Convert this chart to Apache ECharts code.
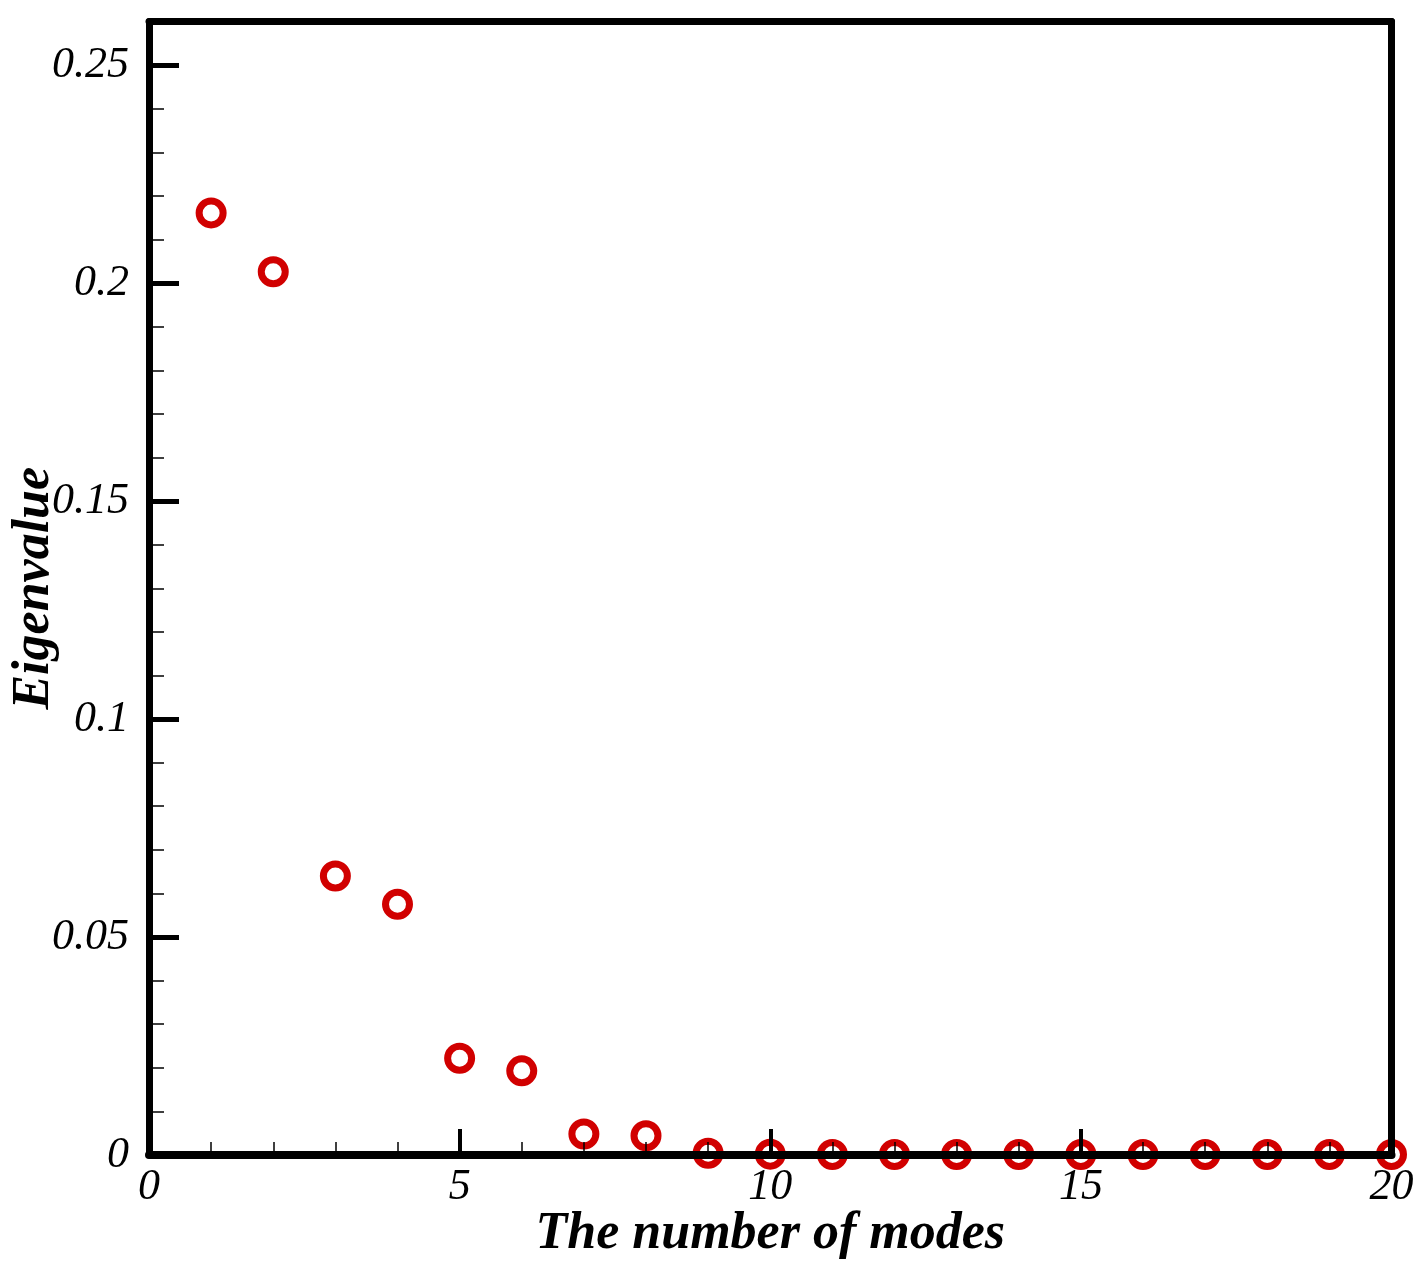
<!DOCTYPE html>
<html>
<head>
<meta charset="utf-8">
<script src="https://cdn.jsdelivr.net/npm/echarts@6/dist/echarts.min.js"></script>
<style>html,body{margin:0;padding:0;background:#fff}#c{width:1426px;height:1280px}</style>
</head>
<body>
<div id="c"></div>
<script>
const modes = [1,2,3,4,5,6,7,8,9,10,11,12,13,14,15,16,17,18,19,20];
const eigenvalues = [0.2161,0.2026,0.0640,0.0575,0.0222,0.0193,0.0048,0.0044,0.0004,0.0002,0.0001,0.0001,0.0001,0.0001,0.0001,0.0001,0.0001,0.0001,0.0001,0.0001];
const xTickLabels = ['0','5','10','15','20'];
const yTickLabels = ['0','0.05','0.1','0.15','0.2','0.25'];
const xTitle = 'The number of modes';
const yTitle = 'Eigenvalue';

const chart = echarts.init(document.getElementById('c'));
const labelFont = {fontFamily:'Liberation Serif', fontStyle:'italic', fontSize:44, color:'#000'};
const titleFont = {fontFamily:'Liberation Serif', fontStyle:'italic', fontWeight:'bold', fontSize:52, color:'#000'};
chart.setOption({
  animation:false,
  backgroundColor:'#fff',
  grid:{left:149, right:34.5, top:21.5, bottom:125, show:false, containLabel:false, outerBoundsMode:'none'},
  xAxis:[{
    type:'value', min:0, max:20, interval:5, z:10,
    axisLine:{show:true, onZero:false, lineStyle:{color:'#000', width:8}},
    axisTick:{show:true, inside:true, length:26, lineStyle:{color:'#000', width:4}},
    minorTick:{show:true, splitNumber:5, length:13, lineStyle:{color:'#000', width:1.5}},
    splitLine:{show:false},
    axisLabel:Object.assign({margin:10, formatter:(v)=>xTickLabels[Math.round(v/5)] ?? ''}, labelFont),
    name:xTitle, nameLocation:'middle', nameGap:54, nameMoveOverlap:false, nameTextStyle:titleFont
  },{
    type:'value', position:'top', min:0, max:20, z:10,
    axisLine:{show:true, onZero:false, lineStyle:{color:'#000', width:7}},
    axisTick:{show:false}, axisLabel:{show:false}, splitLine:{show:false}
  }],
  yAxis:[{
    type:'value', min:0, max:0.26, interval:0.05, z:10,
    axisLine:{show:true, onZero:false, lineStyle:{color:'#000', width:7}},
    axisTick:{show:true, inside:true, length:30, lineStyle:{color:'#000', width:5}},
    minorTick:{show:true, splitNumber:5, length:15, lineStyle:{color:'#000', width:1.5}},
    splitLine:{show:false},
    axisLabel:Object.assign({margin:20, showMaxLabel:false, formatter:(v)=>{const i=Math.round(v/0.05); return Math.abs(v-i*0.05)<1e-9 ? (yTickLabels[i] ?? '') : '';}}, labelFont),
    name:yTitle, nameLocation:'middle', nameRotate:90, nameGap:88, nameMoveOverlap:false, nameTextStyle:titleFont
  },{
    type:'value', position:'right', min:0, max:0.26, z:10,
    axisLine:{show:true, onZero:false, lineStyle:{color:'#000', width:7}},
    axisTick:{show:false}, axisLabel:{show:false}, splitLine:{show:false}
  }],
  series:[{
    type:'scatter', clip:false, z:2,
    symbol:'circle', symbolSize:24,
    itemStyle:{color:'#fff', borderColor:'#d10000', borderWidth:7, opacity:1},
    data:modes.map((m,i)=>[m, eigenvalues[i]])
  }]
});
</script>
</body>
</html>
